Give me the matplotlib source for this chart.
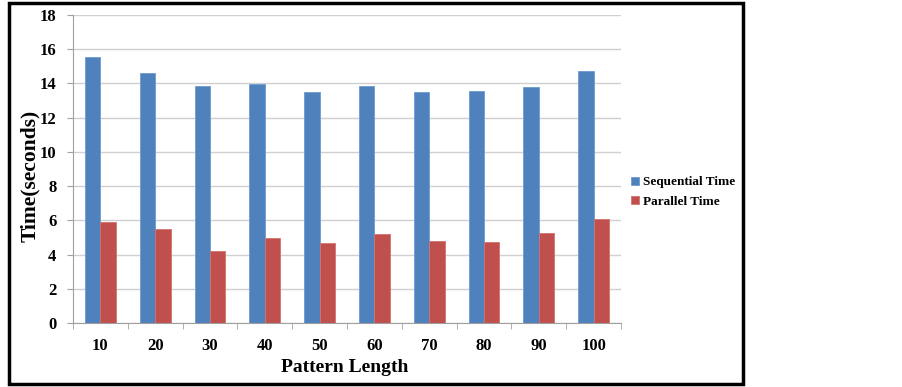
#!/usr/bin/env python3
"""Sequential vs parallel time by pattern length, grouped bars."""
import matplotlib
matplotlib.use("Agg")
import matplotlib.pyplot as plt
import numpy as np
from matplotlib.patches import Rectangle

PATTERN_LENGTHS = ["10", "20", "30", "40", "50", "60", "70", "80", "90", "100"]
SEQUENTIAL_TIME = [15.53, 14.61, 13.83, 13.97, 13.50, 13.87, 13.50, 13.54, 13.77, 14.71]
PARALLEL_TIME = [5.92, 5.49, 4.19, 4.95, 4.68, 5.18, 4.79, 4.73, 5.24, 6.06]

BLUE = "#4F81BD"
RED = "#C0504D"
GRID = "#D0D0D0"

plt.rcParams.update({
    "font.family": ["Liberation Serif", "DejaVu Serif"],
    "font.weight": "bold",
})

fig = plt.figure(figsize=(9.03, 3.87), dpi=100)
ax = fig.add_axes([73 / 903, 1 - 323 / 387, 548 / 903, 308 / 387])

x = np.arange(len(PATTERN_LENGTHS))
width = 0.28
ax.bar(x - width / 2, SEQUENTIAL_TIME, width, color=BLUE, edgecolor="#6F9AD0",
       linewidth=0.6, label="Sequential Time", zorder=3)
ax.bar(x + width / 2, PARALLEL_TIME, width, color=RED, edgecolor="#D27370",
       linewidth=0.6, label="Parallel Time", zorder=3)

ax.set_xlim(-0.5, len(x) - 0.5)
ax.set_ylim(0, 18)
ax.set_yticks(np.arange(0, 19, 2))
ax.set_xticks(x)
ax.set_xticklabels(PATTERN_LENGTHS)
ax.set_xticks(np.arange(-0.5, len(x), 1), minor=True)
ax.tick_params(axis="x", which="major", length=0, pad=11, labelsize=12)
ax.tick_params(axis="x", which="minor", length=4, color="#A0A0A0", direction="out")
ax.tick_params(axis="y", length=4, color="#A0A0A0", pad=8, labelsize=12)
for lab in ax.get_xticklabels() + ax.get_yticklabels():
    lab.set_fontweight("bold")

ax.grid(axis="y", color=GRID, linewidth=1.0, zorder=0)
for side in ("top", "right"):
    ax.spines[side].set_visible(False)
for side in ("left", "bottom"):
    ax.spines[side].set_color("#A0A0A0")
    ax.spines[side].set_linewidth(0.8)

fig.text(345 / 903, 1 - 367 / 387, "Pattern Length", ha="center", va="center",
         fontsize=14, fontweight="bold")
fig.text(30 / 903, 1 - 176 / 387, "Time(seconds)", ha="center", va="center",
         rotation=90, fontsize=15.5, fontweight="bold")

leg = ax.legend(loc="center left", bbox_to_anchor=(626 / 903, 1 - 192 / 387),
                bbox_transform=fig.transFigure, frameon=False, fontsize=9.5,
                handlelength=0.6, handleheight=0.6, handletextpad=0.3,
                labelspacing=0.55, borderaxespad=0)
for t in leg.get_texts():
    t.set_fontweight("bold")

fig.patches.append(Rectangle((9 / 903, 1 - 384 / 387), 734 / 903, 381 / 387,
                             transform=fig.transFigure, fill=False,
                             edgecolor="black", linewidth=2.5))

fig.savefig("out.png", dpi=100)
